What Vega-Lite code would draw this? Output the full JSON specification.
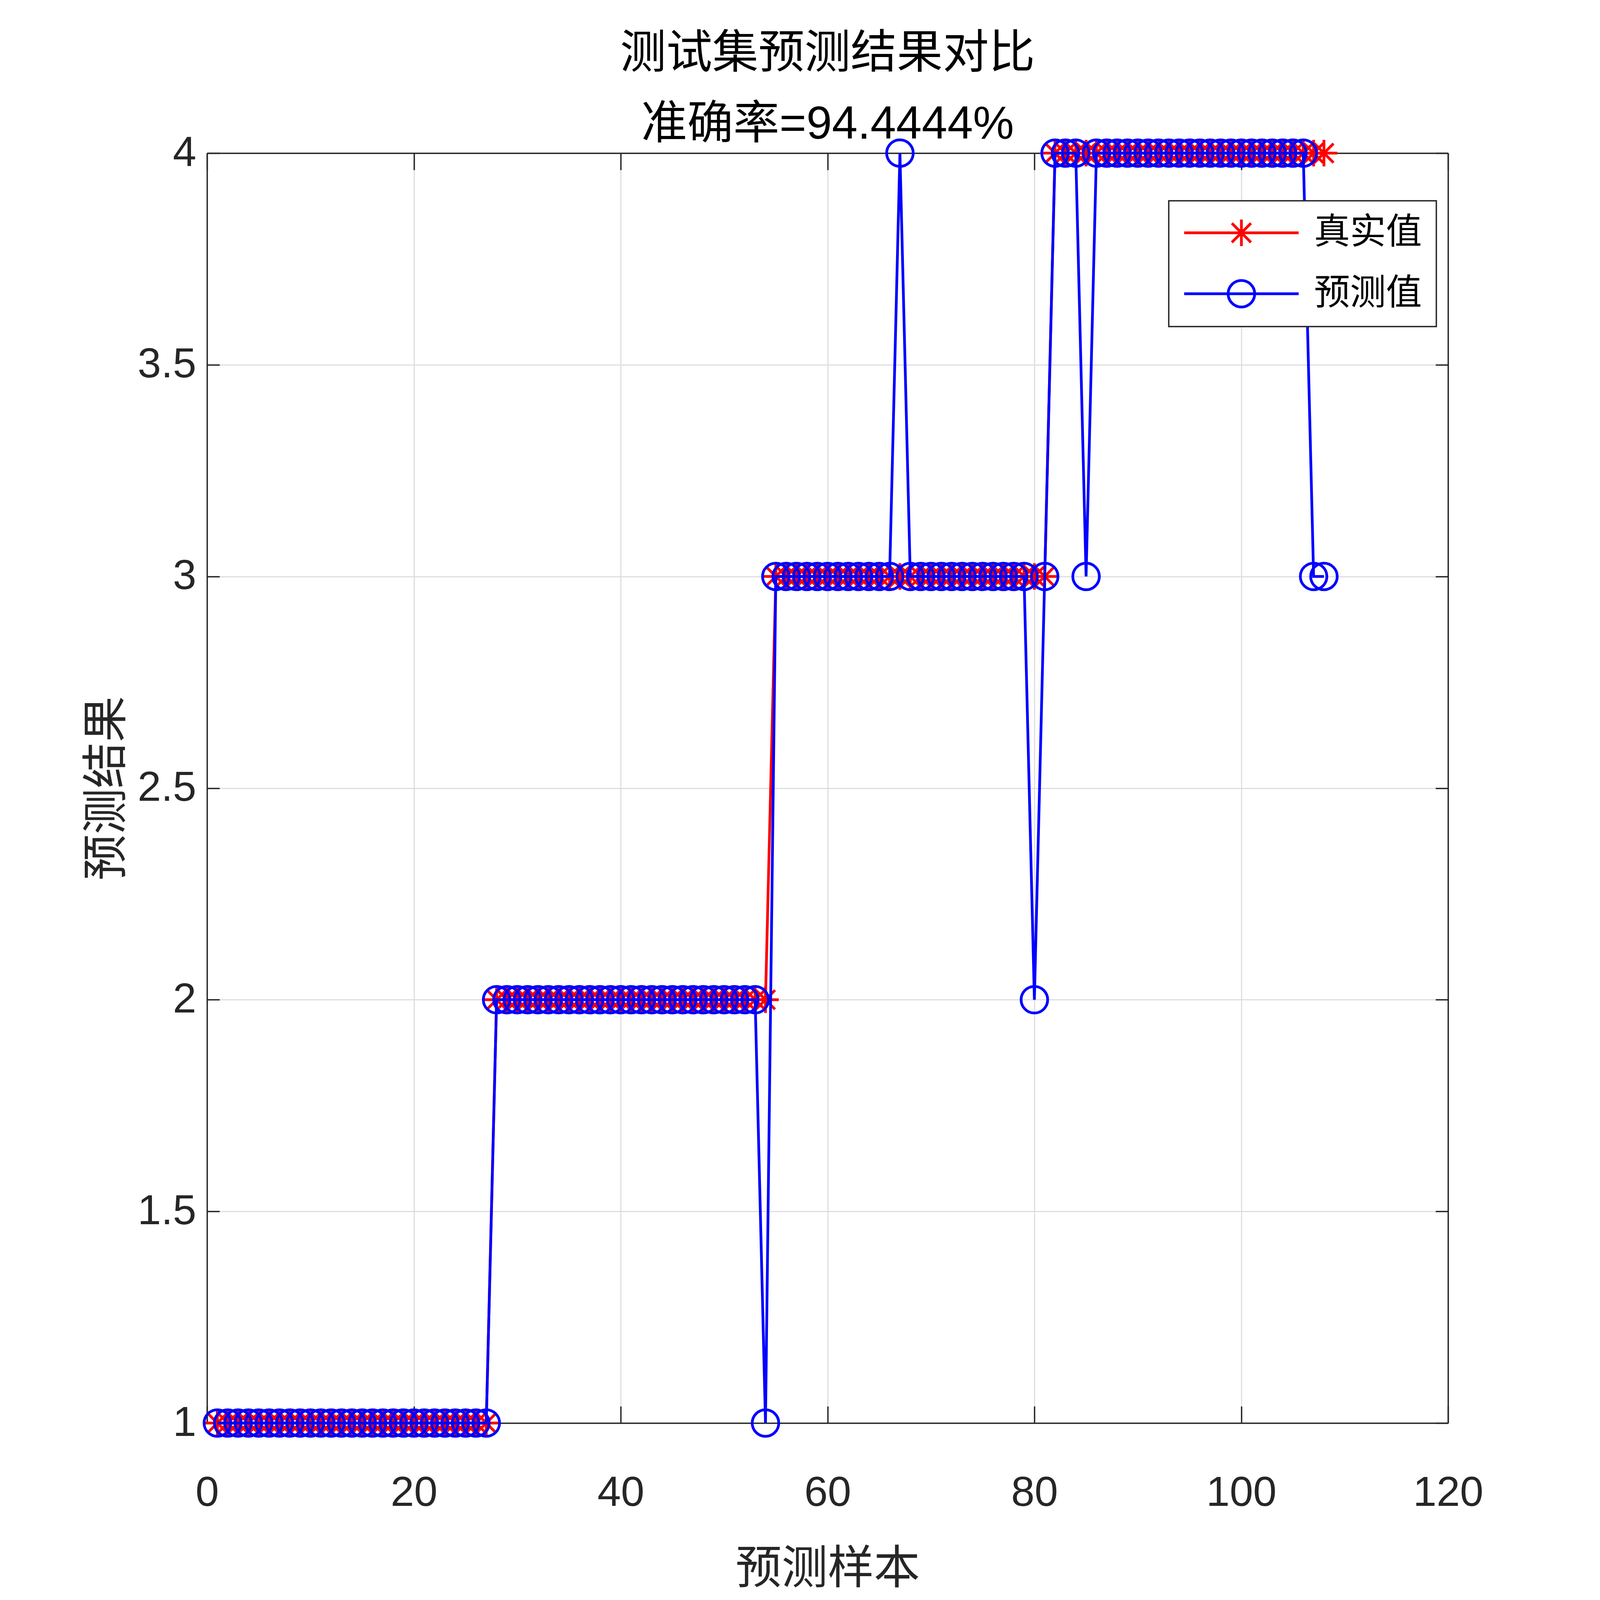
{
  "$schema": "https://vega.github.io/schema/vega-lite/v6.json",
  "width": 3177,
  "height": 3251,
  "autosize": {"type": "none"},
  "padding": {"left": 530, "top": 392, "right": 389, "bottom": 453},
  "background": "#ffffff",
  "title": {
    "text": ["测试集预测结果对比", "准确率=94.4444%"],
    "font": "Liberation Sans, Noto Sans CJK SC",
    "fontSize": 118,
    "fontWeight": "normal",
    "color": "#000000",
    "lineHeight": 181,
    "anchor": "middle",
    "baseline": "alphabetic",
    "offset": 32,
    "dy": 167,
    "limit": 0
  },
  "data": {"values": [
    {"i":1,"t":1,"p":1},{"i":2,"t":1,"p":1},{"i":3,"t":1,"p":1},{"i":4,"t":1,"p":1},{"i":5,"t":1,"p":1},{"i":6,"t":1,"p":1},{"i":7,"t":1,"p":1},{"i":8,"t":1,"p":1},{"i":9,"t":1,"p":1},{"i":10,"t":1,"p":1},
    {"i":11,"t":1,"p":1},{"i":12,"t":1,"p":1},{"i":13,"t":1,"p":1},{"i":14,"t":1,"p":1},{"i":15,"t":1,"p":1},{"i":16,"t":1,"p":1},{"i":17,"t":1,"p":1},{"i":18,"t":1,"p":1},{"i":19,"t":1,"p":1},{"i":20,"t":1,"p":1},
    {"i":21,"t":1,"p":1},{"i":22,"t":1,"p":1},{"i":23,"t":1,"p":1},{"i":24,"t":1,"p":1},{"i":25,"t":1,"p":1},{"i":26,"t":1,"p":1},{"i":27,"t":1,"p":1},{"i":28,"t":2,"p":2},{"i":29,"t":2,"p":2},{"i":30,"t":2,"p":2},
    {"i":31,"t":2,"p":2},{"i":32,"t":2,"p":2},{"i":33,"t":2,"p":2},{"i":34,"t":2,"p":2},{"i":35,"t":2,"p":2},{"i":36,"t":2,"p":2},{"i":37,"t":2,"p":2},{"i":38,"t":2,"p":2},{"i":39,"t":2,"p":2},{"i":40,"t":2,"p":2},
    {"i":41,"t":2,"p":2},{"i":42,"t":2,"p":2},{"i":43,"t":2,"p":2},{"i":44,"t":2,"p":2},{"i":45,"t":2,"p":2},{"i":46,"t":2,"p":2},{"i":47,"t":2,"p":2},{"i":48,"t":2,"p":2},{"i":49,"t":2,"p":2},{"i":50,"t":2,"p":2},
    {"i":51,"t":2,"p":2},{"i":52,"t":2,"p":2},{"i":53,"t":2,"p":2},{"i":54,"t":2,"p":1},{"i":55,"t":3,"p":3},{"i":56,"t":3,"p":3},{"i":57,"t":3,"p":3},{"i":58,"t":3,"p":3},{"i":59,"t":3,"p":3},{"i":60,"t":3,"p":3},
    {"i":61,"t":3,"p":3},{"i":62,"t":3,"p":3},{"i":63,"t":3,"p":3},{"i":64,"t":3,"p":3},{"i":65,"t":3,"p":3},{"i":66,"t":3,"p":3},{"i":67,"t":3,"p":4},{"i":68,"t":3,"p":3},{"i":69,"t":3,"p":3},{"i":70,"t":3,"p":3},
    {"i":71,"t":3,"p":3},{"i":72,"t":3,"p":3},{"i":73,"t":3,"p":3},{"i":74,"t":3,"p":3},{"i":75,"t":3,"p":3},{"i":76,"t":3,"p":3},{"i":77,"t":3,"p":3},{"i":78,"t":3,"p":3},{"i":79,"t":3,"p":3},{"i":80,"t":3,"p":2},
    {"i":81,"t":3,"p":3},{"i":82,"t":4,"p":4},{"i":83,"t":4,"p":4},{"i":84,"t":4,"p":4},{"i":85,"t":4,"p":3},{"i":86,"t":4,"p":4},{"i":87,"t":4,"p":4},{"i":88,"t":4,"p":4},{"i":89,"t":4,"p":4},{"i":90,"t":4,"p":4},
    {"i":91,"t":4,"p":4},{"i":92,"t":4,"p":4},{"i":93,"t":4,"p":4},{"i":94,"t":4,"p":4},{"i":95,"t":4,"p":4},{"i":96,"t":4,"p":4},{"i":97,"t":4,"p":4},{"i":98,"t":4,"p":4},{"i":99,"t":4,"p":4},{"i":100,"t":4,"p":4},
    {"i":101,"t":4,"p":4},{"i":102,"t":4,"p":4},{"i":103,"t":4,"p":4},{"i":104,"t":4,"p":4},{"i":105,"t":4,"p":4},{"i":106,"t":4,"p":4},{"i":107,"t":4,"p":3},{"i":108,"t":4,"p":3}
  ]},
  "layer": [
    {
      "mark": {"type": "line", "color": "#ff0000", "strokeWidth": 7},
      "encoding": {
        "x": {"field": "i", "type": "quantitative", "scale": {"domain": [0, 120], "nice": false, "zero": false},
          "axis": {"orient": "bottom", "values": [0,20,40,60,80,100,120], "grid": true, "gridColor": "#dedede", "gridWidth": 3,
            "domainColor": "#262626", "domainWidth": 3.5, "tickColor": "#262626", "tickWidth": 3.5, "tickSize": -43,
            "labelFont": "Liberation Sans", "labelFontSize": 108, "labelColor": "#262626", "labelPadding": 169, "labelFlush": false, "labelOverlap": false, "labelLimit": 0,
            "title": "预测样本", "titleFont": "Liberation Sans, Noto Sans CJK SC", "titleFontSize": 118, "titleFontWeight": "normal", "titleColor": "#262626", "titlePadding": 117, "titleLimit": 0}},
        "y": {"field": "t", "type": "quantitative", "scale": {"domain": [1, 4], "nice": false, "zero": false},
          "axis": {"orient": "left", "values": [1,1.5,2,2.5,3,3.5,4], "format": "~g", "grid": true, "gridColor": "#dedede", "gridWidth": 3,
            "domainColor": "#262626", "domainWidth": 3.5, "tickColor": "#262626", "tickWidth": 3.5, "tickSize": -32,
            "labelFont": "Liberation Sans", "labelFontSize": 108, "labelColor": "#262626", "labelPadding": 60, "labelFlush": false, "labelOverlap": false, "labelLimit": 0,
            "title": "预测结果", "titleFont": "Liberation Sans, Noto Sans CJK SC", "titleFontSize": 118, "titleFontWeight": "normal", "titleColor": "#262626", "titlePadding": 16, "titleLimit": 0}}
      }
    },
    {
      "mark": {"type": "point", "shape": "M0,-1V1M-1,0H1M-0.72,-0.72L0.72,0.72M-0.72,0.72L0.72,-0.72", "filled": false, "color": "#ff0000", "strokeWidth": 7, "size": 4624, "opacity": 1},
      "encoding": {
        "x": {"field": "i", "type": "quantitative", "axis": null},
        "y": {"field": "t", "type": "quantitative", "axis": null}
      }
    },
    {
      "mark": {"type": "line", "color": "#0000ff", "strokeWidth": 7},
      "encoding": {
        "x": {"field": "i", "type": "quantitative",
          "axis": {"orient": "top", "values": [0,20,40,60,80,100,120], "grid": false, "labels": false, "title": null,
            "domainColor": "#262626", "domainWidth": 3.5, "tickColor": "#262626", "tickWidth": 3.5, "tickSize": -43}},
        "y": {"field": "p", "type": "quantitative",
          "axis": {"orient": "right", "values": [1,1.5,2,2.5,3,3.5,4], "grid": false, "labels": false, "title": null,
            "domainColor": "#262626", "domainWidth": 3.5, "tickColor": "#262626", "tickWidth": 3.5, "tickSize": -32}}
      }
    },
    {
      "mark": {"type": "point", "shape": "circle", "filled": false, "color": "#0000ff", "strokeWidth": 7, "size": 4624, "opacity": 1},
      "encoding": {
        "x": {"field": "i", "type": "quantitative", "axis": null},
        "y": {"field": "p", "type": "quantitative", "axis": null}
      }
    },
    {
      "mark": {"type": "point", "filled": false, "strokeWidth": 7, "opacity": 0},
      "encoding": {
        "x": {"field": "i", "type": "quantitative", "axis": null},
        "y": {"field": "t", "type": "quantitative", "axis": null},
        "color": {"datum": "真实值", "type": "nominal", "scale": {"domain": ["真实值", "预测值"], "range": ["#ff0000", "#0000ff"]},
          "legend": {"title": null, "orient": "none", "legendX": 2462, "legendY": 122, "padding": 36, "symbolOffset": 104, "symbolSize": 4624, "symbolStrokeWidth": 7, "symbolOpacity": 1, "labelOffset": 140, "rowPadding": 60, "labelFont": "Liberation Sans, Noto Sans CJK SC", "labelFontSize": 92, "labelColor": "#000000", "labelLimit": 0, "strokeColor": "#262626", "fillColor": "#ffffff"}},
        "shape": {"datum": "真实值", "type": "nominal", "scale": {"domain": ["真实值", "预测值"], "range": ["M-4.31,0H4.31M0,-1V1M-0.72,-0.72L0.72,0.72M-0.72,0.72L0.72,-0.72", "M-4.31,0H4.31M1,0A1,1,0,1,1,-1,0A1,1,0,1,1,1,0"]},
          "legend": {"title": null, "orient": "none", "legendX": 2462, "legendY": 122, "padding": 36, "symbolOffset": 104, "symbolSize": 4624, "symbolStrokeWidth": 7, "symbolOpacity": 1, "labelOffset": 140, "rowPadding": 60, "labelFont": "Liberation Sans, Noto Sans CJK SC", "labelFontSize": 92, "labelColor": "#000000", "labelLimit": 0, "strokeColor": "#262626", "fillColor": "#ffffff"}}
      }
    },
    {
      "mark": {"type": "point", "filled": false, "strokeWidth": 7, "opacity": 0},
      "encoding": {
        "x": {"field": "i", "type": "quantitative", "axis": null},
        "y": {"field": "p", "type": "quantitative", "axis": null},
        "color": {"datum": "预测值", "type": "nominal"},
        "shape": {"datum": "预测值", "type": "nominal"}
      }
    }
  ],
  "resolve": {"axis": {"x": "independent", "y": "independent"}},
  "config": {
    "view": {"stroke": null},
    "legend": {"strokeWidth": 3.5}
  }
}
